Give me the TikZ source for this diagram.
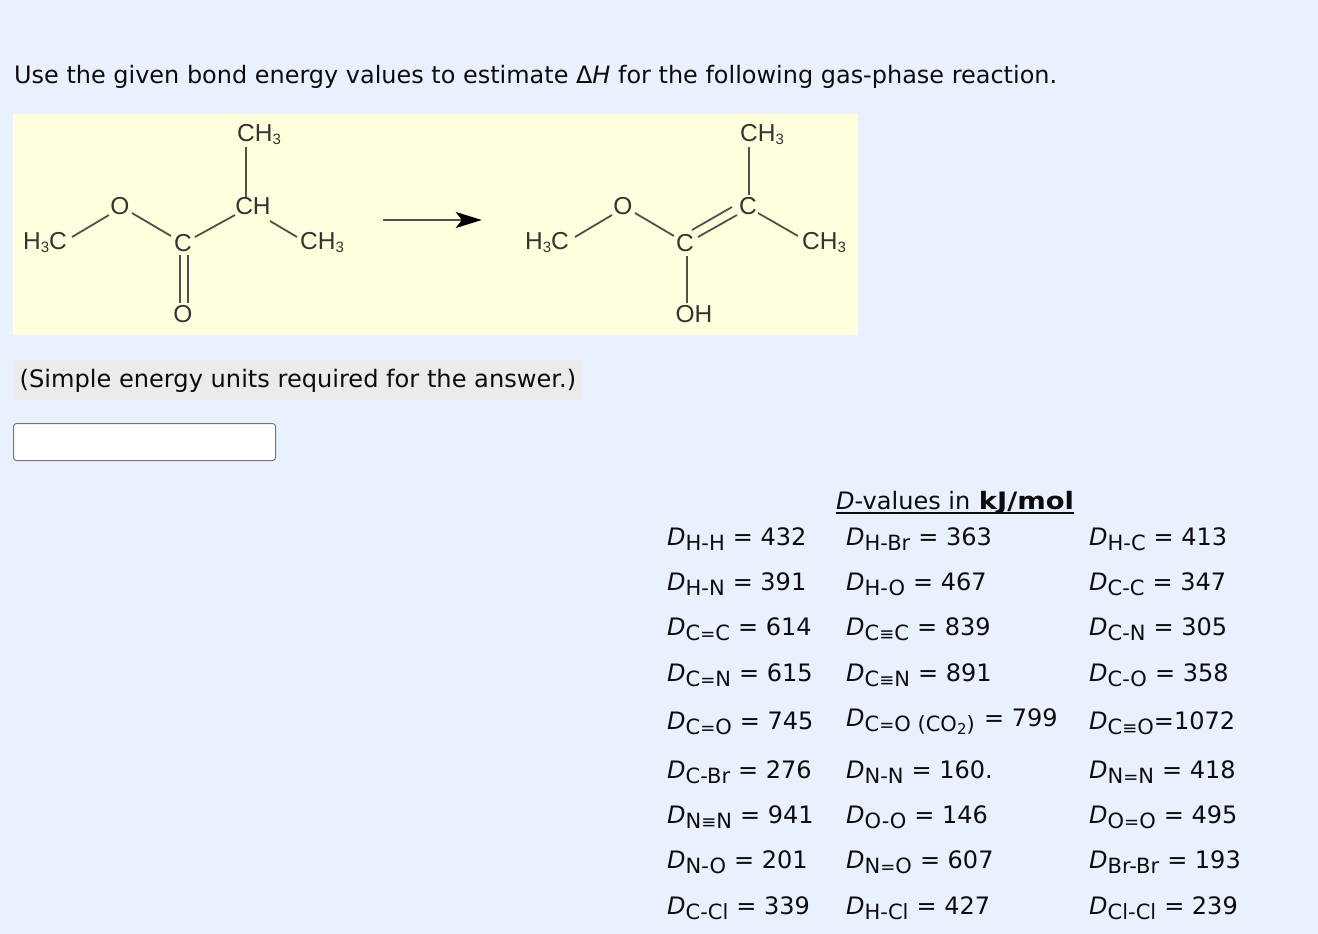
\documentclass[tikz,border=0pt]{standalone}
\usepackage{fontspec}
\setmainfont{DejaVu Sans}
\newfontfamily\chemfont{Liberation Sans}
\usetikzlibrary{calc,arrows.meta}
\definecolor{pagebg}{HTML}{EAF1FE}
\definecolor{panelyellow}{HTML}{FFFFDD}
\definecolor{notegray}{HTML}{EBEBEB}
\definecolor{inkc}{HTML}{0C0C0C}
\definecolor{bondc}{HTML}{505050}
\definecolor{fieldc}{HTML}{767676}
\newcommand{\subs}[1]{\raisebox{-5.5pt}{\fontsize{21}{24}\selectfont #1}}
\newcommand{\nbe}{{\fontsize{18}{20}\selectfont =}}
\newcommand{\nbt}{{\fontsize{18}{20}\selectfont ≡}}
\newcommand{\dval}[2]{\textit{D}\subs{#1}\hspace{8pt}#2}
\newcommand{\chemsub}[1]{\raisebox{-3pt}{\fontsize{15}{16}\selectfont #1}}
\tikzset{
  txt/.style={anchor=base west,inner sep=0pt,text=inkc,font=\fontsize{24}{28}\selectfont},
  cell/.style={txt},
  atom/.style={inner sep=0pt,text=black!80,font=\chemfont\fontsize{24.5}{27}\selectfont},
  bond/.style={draw=bondc,line width=1.8pt}
}
\begin{document}
\begin{tikzpicture}[x=1pt,y=-1pt]
\useasboundingbox (0,0) rectangle (1318,934);
\fill[pagebg] (0,0) rectangle (1318,934);
\fill[panelyellow] (13,114) rectangle (858,335);
\fill[notegray] (13,360) rectangle (582,400);
\draw[fieldc,fill=white,line width=1pt,rounded corners=3pt] (13.5,423.5) rectangle (275.5,460.5);
\node[txt,font=\fontsize{23.95}{28}\selectfont] (title) at (14,84) {Use the given bond energy values to estimate Δ\textit{H} for the following gas-phase reaction.};
\node[txt,font=\fontsize{24.1}{28}\selectfont] (note) at (19.5,387.5) {(Simple energy units required for the answer.)};
% reactant
\node[atom] (lme) at (45,243) {H\chemsub{3}C};
\node[atom] (lo) at (120,206) {O};
\node[atom] (lc) at (183,243) {C};
\node[atom] (lch) at (253,206) {CH};
\node[atom] (ltop) at (259,135) {CH\chemsub{3}};
\node[atom] (lr) at (322,243) {CH\chemsub{3}};
\node[atom] (lod) at (183,314) {O};
\draw[bond] ($(lme)+(27,-6)$) -- ($(lo)+(-11,9)$);
\draw[bond] ($(lo)+(12,7)$) -- ($(lc)+(-12,-7)$);
\draw[bond] ($(lc)+(12,-6)$) -- ($(lch)+(-18,9)$);
\draw[bond] ($(ltop)+(-13,12)$) -- ($(lch)+(-7,-9)$);
\draw[bond] ($(lch)+(17,15)$) -- ($(lr)+(-25,-6)$);
\draw[bond] ($(lc)+(-3,12)$) -- ($(lod)+(-3,-11)$);
\draw[bond] ($(lc)+(5,12)$) -- ($(lod)+(5,-11)$);
% arrow
\node[inner sep=0pt,minimum size=0pt] (astart) at (383,220) {};
\node[inner sep=0pt,minimum size=0pt] (aend) at (482,220) {};
\draw[draw=bondc,line width=1.8pt,-{Stealth[length=26pt,width=16pt,inset=6pt,fill=black,black]}] (astart) -- (aend);
% product
\node[atom] (rme) at (547,243) {H\chemsub{3}C};
\node[atom] (ro) at (623,206) {O};
\node[atom] (rc) at (685,243) {C};
\node[atom] (rc2) at (748,206) {C};
\node[atom] (rtop) at (762,135) {CH\chemsub{3}};
\node[atom] (rr) at (824,243) {CH\chemsub{3}};
\node[atom] (roh) at (694,314) {OH};
\draw[bond] ($(rme)+(28,-6)$) -- ($(ro)+(-11,9)$);
\draw[bond] ($(ro)+(12,7)$) -- ($(rc)+(-11,-7)$);
\draw[bond] ($(rc)+(7,-13)$) -- ($(rc2)+(-16,1)$);
\draw[bond] ($(rc)+(13,-6)$) -- ($(rc2)+(-11,9)$);
\draw[bond] ($(rc)+(2,13)$) -- ($(roh)+(-7,-11)$);
\draw[bond] ($(rtop)+(-13,12)$) -- ($(rc2)+(1,-11)$);
\draw[bond] ($(rc2)+(10,7)$) -- ($(rr)+(-26,-7)$);
% table
\node[txt] (head) at (836,509) {\textit{D}-values in\hspace{1pt} {\bfseries\addfontfeatures{FakeStretch=1.14}kJ/mol}};
\draw[inkc,line width=1.2pt] ($(head.base west)+(0,4)$) -- ($(head.base east)+(0,4)$);
\node[cell] (a1) at (667,545) {\dval{H-H}{= 432}};
\node[cell] (b1) at (846,545) {\dval{H-Br}{= 363}};
\node[cell] (c1) at (1089,545) {\dval{H-C}{= 413}};
\node[cell] (a2) at (667,590) {\dval{H-N}{= 391}};
\node[cell] (b2) at (846,590) {\dval{H-O}{= 467}};
\node[cell] (c2) at (1089,590) {\dval{C-C}{= 347}};
\node[cell] (a3) at (667,635) {\dval{C\nbe C}{= 614}};
\node[cell] (b3) at (846,635) {\dval{C\nbt C}{= 839}};
\node[cell] (c3) at (1089,635) {\dval{C-N}{= 305}};
\node[cell] (a4) at (667,681) {\dval{C\nbe N}{= 615}};
\node[cell] (b4) at (846,681) {\dval{C\nbt N}{= 891}};
\node[cell] (c4) at (1089,681) {\dval{C-O}{= 358}};
\node[cell] (a5) at (667,729) {\dval{C\nbe O}{= 745}};
\node[cell] (b5) at (846,726) {\textit{D}\subs{C\nbe O (CO\raisebox{-3pt}{\fontsize{15}{16}\selectfont 2})}};
\node[cell] (b5v) at (984,726) {= 799};
\node[cell] (c5) at (1089,729) {\textit{D}\subs{C\nbt O}=1072};
\node[cell] (a6) at (667,778) {\dval{C-Br}{= 276}};
\node[cell] (b6) at (846,778) {\dval{N-N}{= 160.}};
\node[cell] (c6) at (1089,778) {\dval{N\nbe N}{= 418}};
\node[cell] (a7) at (667,823) {\dval{N\nbt N}{= 941}};
\node[cell] (b7) at (846,823) {\dval{O-O}{= 146}};
\node[cell] (c7) at (1089,823) {\dval{O\nbe O}{= 495}};
\node[cell] (a8) at (667,868) {\dval{N-O}{= 201}};
\node[cell] (b8) at (846,868) {\dval{N\nbe O}{= 607}};
\node[cell] (c8) at (1089,868) {\dval{Br-Br}{= 193}};
\node[cell] (a9) at (667,914) {\dval{C-Cl}{= 339}};
\node[cell] (b9) at (846,914) {\dval{H-Cl}{= 427}};
\node[cell] (c9) at (1089,914) {\dval{Cl-Cl}{= 239}};
\end{tikzpicture}
\end{document}
